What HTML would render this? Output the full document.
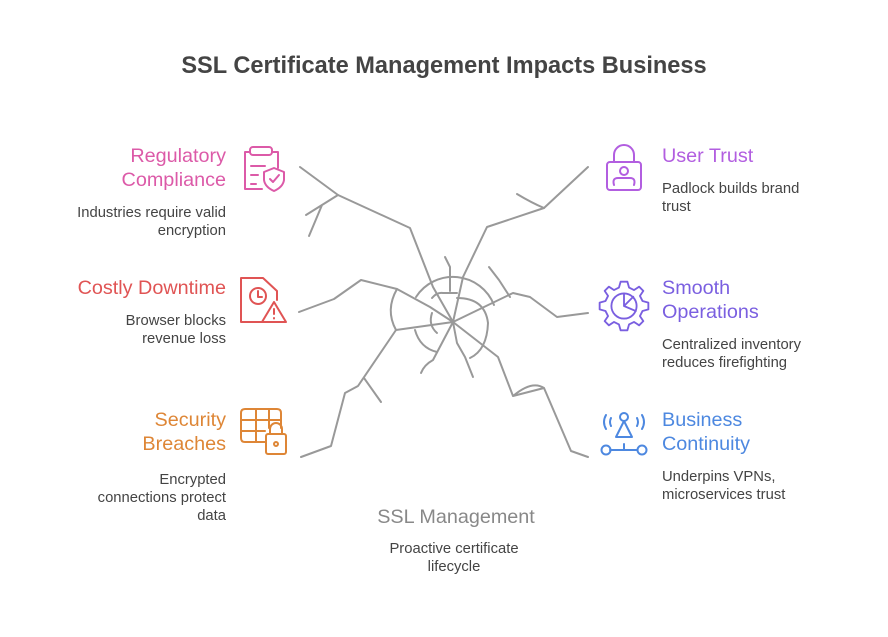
<!DOCTYPE html>
<html><head><meta charset="utf-8"><style>
body{margin:0;width:888px;height:637px;background:#fff;font-family:"Liberation Sans",sans-serif;position:relative;overflow:hidden}
.t{position:absolute;white-space:nowrap}
.h{font-size:19.8px;line-height:24px}
.d{font-size:14.8px;line-height:18px;color:#444}
.r{text-align:right}
</style></head><body>
<div class="t" style="left:0;width:888px;text-align:center;top:53px;font-size:23.6px;font-weight:bold;color:#444">SSL Certificate Management Impacts Business</div>

<div class="t h r" style="right:662px;top:144px;color:#dc5aa8">Regulatory<br>Compliance</div>
<div class="t d r" style="right:662px;top:204px">Industries require valid<br>encryption</div>
<div class="t h r" style="right:662px;top:276px;color:#e05454">Costly Downtime</div>
<div class="t d r" style="right:662px;top:312px">Browser blocks<br>revenue loss</div>
<div class="t h r" style="right:662px;top:408px;color:#de8636">Security<br>Breaches</div>
<div class="t d r" style="right:662px;top:471px">Encrypted<br>connections protect<br>data</div>

<div class="t h" style="left:662px;top:144px;color:#b25ee0">User Trust</div>
<div class="t d" style="left:662px;top:180px">Padlock builds brand<br>trust</div>
<div class="t h" style="left:662px;top:276px;color:#7a5fe0">Smooth<br>Operations</div>
<div class="t d" style="left:662px;top:336px">Centralized inventory<br>reduces firefighting</div>
<div class="t h" style="left:662px;top:408px;color:#4d88e0">Business<br>Continuity</div>
<div class="t d" style="left:662px;top:468px">Underpins VPNs,<br>microservices trust</div>

<div class="t h" style="left:0;width:912px;text-align:center;top:505px;color:#888">SSL Management</div>
<div class="t d" style="left:0;width:908px;text-align:center;top:540px">Proactive certificate<br>lifecycle</div>

<svg width="888" height="637" style="position:absolute;left:0;top:0" fill="none" stroke-linecap="round" stroke-linejoin="round">
<g stroke="#999" stroke-width="2">
<path d="M300,167L338,195L410,228L433,287L453,322"/>
<path d="M338,195L322,205L306,215M322,205L309,236"/>
<path d="M588,167L544,208L487,227L463,277L453,322"/>
<path d="M517,194Q532,203 544,208"/>
<path d="M299,312L334,299L361,280L397,289L430,307L453,322"/>
<path d="M397,289Q385,310 396,330L453,322"/>
<path d="M588,313L557,317L530,297L513,293L453,322M510,297L499,280L489,267"/>
<path d="M301,457L331,446L345,393L358,386L396,330M364,378L381,402"/>
<path d="M588,457L571,451L544,388L513,396L498,357L453,322M513,396Q532,380 544,388"/>
<path d="M453,322L457,343L465,357L473,377"/>
<path d="M453,322L433,360Q424,365 421,373"/>
<path d="M416,297A44,44 0 0 1 494,305"/>
<path d="M415,330Q420,348 437,352"/>
<path d="M457,298Q485,298 488,323Q487,350 470,358"/>
<path d="M432,298Q437,292 443,293L457,293"/>
<path d="M432,313Q428,325 437,333"/>
<path d="M450,291L450,267L445,257"/>
</g>
<g stroke="#dc5aa8" stroke-width="2">
<path d="M250,152H245V189H262M278,168V152H272"/><rect x="250" y="147" width="22" height="8" rx="3"/>
<path d="M251,166H265M251,175H258M251,184H256"/><path d="M264,172L274,168L284,172V180Q283,187 274,191Q265,187 264,180Z"/><path d="M270,179L273,182L279,175"/>
</g>
<g stroke="#e05454" stroke-width="2">
<path d="M266,322H241V278H263L277,291V300"/><circle cx="258" cy="296" r="8"/><path d="M258,291V297H262"/>
<path d="M274,302L286,322H262Z"/><path d="M274,309V314M274,318V318.5"/>
</g>
<g stroke="#de8636" stroke-width="2">
<path d="M265,442H245Q241,442 241,438V413Q241,409 245,409H277Q281,409 281,413V428"/><path d="M241,420H281M241,431H265M256,409V442M269,409V428"/>
<rect x="266" y="434" width="20" height="20" rx="2"/><path d="M270,434V429A6,6 0 0 1 282,429V434"/><circle cx="276" cy="444" r="2"/>
</g>
<g stroke="#b25ee0" stroke-width="2">
<path d="M614,162V155A10,10 0 0 1 634,155V162"/><rect x="607" y="162" width="34" height="28" rx="3"/>
<circle cx="624" cy="171" r="4"/><path d="M614,185Q612,178 618,178L630,178Q636,178 634,185"/>
</g>
<g stroke="#7a5fe0" stroke-width="2.2" transform="translate(624,306) scale(0.84) translate(-624,-306)">
<path d="M620,277L628,277L630,284L636,287L642,283L647,288L643,294L646,300L653,302V310L646,312L643,318L647,324L642,329L636,325L630,328L628,335H620L618,328L612,325L606,329L601,324L605,318L602,312L595,310V302L602,300L605,294L601,288L606,283L612,287L618,284Z"/>
<circle cx="624" cy="306" r="15"/><path d="M624,291V306L638,312M624,306L635,295"/>
</g>
<g stroke="#4d88e0" stroke-width="2">
<path d="M606,415Q602,422 606,429M611,418Q609,422 611,426M642,415Q646,422 642,429M637,418Q639,422 637,426"/>
<circle cx="624" cy="417" r="4"/><path d="M624,421L616,437H632Z"/>
<circle cx="606" cy="450" r="4.5"/><circle cx="642" cy="450" r="4.5"/><path d="M610,450H637M624,444V450"/>
</g>
</svg>
</body></html>
